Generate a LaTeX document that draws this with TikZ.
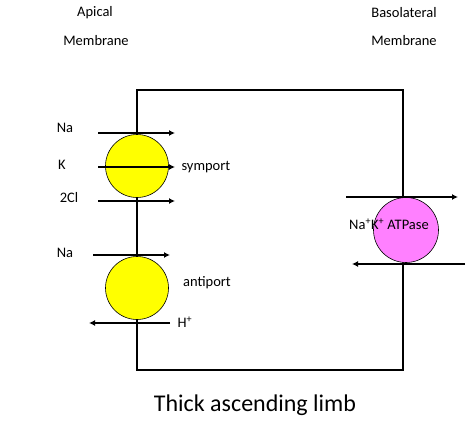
\documentclass[tikz,border=0pt]{standalone}
\usepackage{fontspec}
\setmainfont{Carlito}
\usetikzlibrary{
  arrows.meta,
  positioning,
}
\tikzstyle{flux} = [
  -{Latex[length=6pt,width=6pt]},
  line width=1.3pt,
]
\tikzstyle{carrier} = [
  circle,
  draw,
  line width=0.6pt,
  minimum size=63pt,
  inner sep=0pt,
]
\tikzstyle{ion} = [font=\fontsize{14.5}{17}\selectfont]
\definecolor{carrieryellow}{RGB}{255, 255, 0}
\definecolor{pumppink}{RGB}{255, 128, 255}

\begin{document}
\begin{tikzpicture}[x=1pt,y=-1pt,font=\fontsize{14.5}{17}\selectfont]
			\useasboundingbox (0,0) rectangle (474,428);

			% headings
			\node (apical) at (95,13) {Apical};
			\node (apicalm) at (96,41) {Membrane};
			\node (baso) at (404,13) {Basolateral};
			\node (basom) at (404,41) {Membrane};

			% cell outline
			\coordinate (tl) at (137,90);
			\coordinate (tr) at (403,90);
			\coordinate (br) at (403,370);
			\coordinate (bl) at (137,370);
			\draw[line width=1.3pt] (tl) -- (tr) -- (br) -- (bl) -- cycle;

			% carriers
			\node[carrier,fill=carrieryellow] (sym) at (137,166) {};
			\node[carrier,fill=carrieryellow] (anti) at (137,288) {};
			\node[carrier,fill=pumppink,minimum size=65pt] (pump) at (406,230) {};

			% symport
			\coordinate (na1s) at (98,133);  \coordinate (na1e) at (175,133);
			\coordinate (ks) at (98,167);    \coordinate (ke) at (175,167);
			\coordinate (cls) at (98,201);   \coordinate (cle) at (175,201);
			\draw[flux] (na1s) -- (na1e);
			\draw[flux] (ks) -- (ke);
			\draw[flux] (cls) -- (cle);
			\node[ion] (na1) at (65,128) {Na};
			\node[ion] (k) at (62,165) {K};
			\node[ion] (cl) at (69,198) {2Cl};
			\node[ion,right=3pt of ke] (symlabel) {symport};

			% antiport
			\coordinate (na2s) at (93,255);  \coordinate (na2e) at (170,255);
			\coordinate (hs) at (170,323);   \coordinate (he) at (89,323);
			\draw[flux] (na2s) -- (na2e);
			\draw[flux] (hs) -- (he);
			\node[ion] (na2) at (65,253) {Na};
			\node[ion] (h) at (185,322) {H\textsuperscript{+}};
			\node[ion] (antilabel) at (207,283) {antiport};

			% pump
			\coordinate (ps) at (346,197);   \coordinate (pe) at (458,197);
			\coordinate (qs) at (465,264);   \coordinate (qe) at (352,264);
			\draw[flux] (ps) -- (pe);
			\draw[flux] (qs) -- (qe);
			\node[ion] (atpase) at (389,224) {Na\textsuperscript{+}K\textsuperscript{+} ATPase};

			% caption
			\node[font=\fontsize{24}{28}\selectfont] (title) at (255,405) {Thick ascending limb};
		\end{tikzpicture}
\end{document}
